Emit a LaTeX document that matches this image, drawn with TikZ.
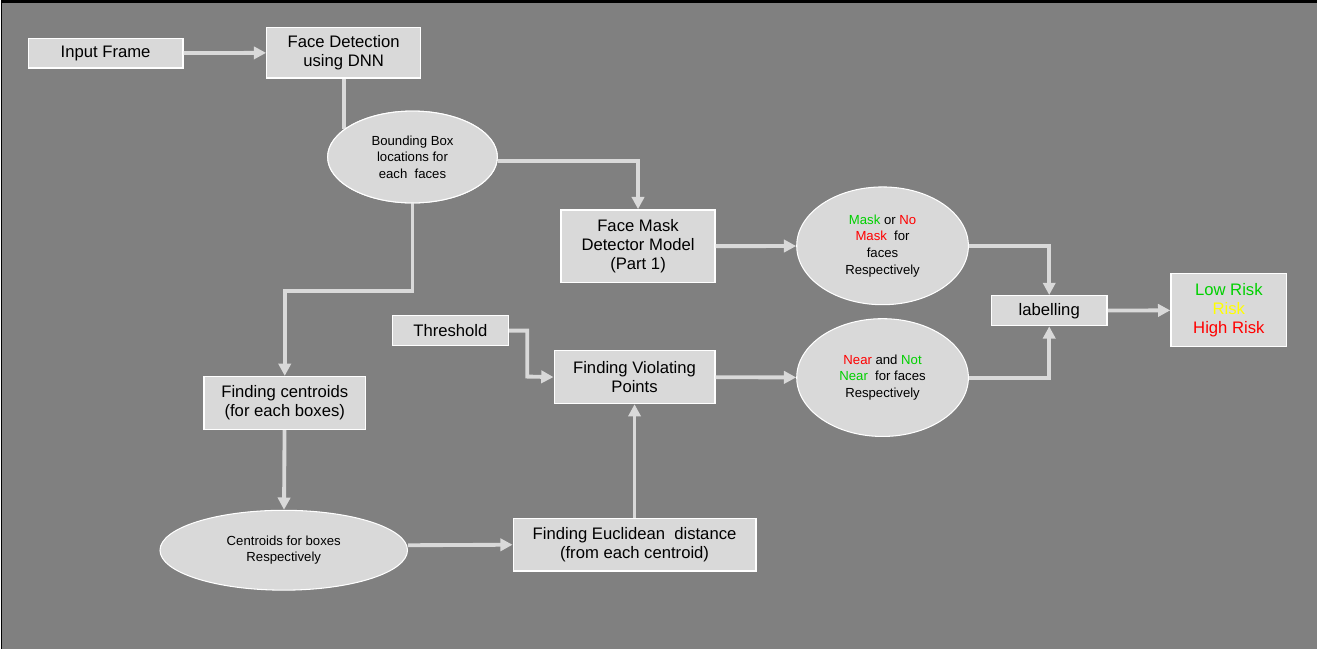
\documentclass[tikz,border=0pt]{standalone}
\usepackage{fontspec}
\setmainfont{Liberation Sans}
\usetikzlibrary{arrows.meta,shapes.geometric}
\newdimen\px \px=0.02cm
\definecolor{bg}{HTML}{808080}
\definecolor{boxfill}{HTML}{D9D9D9}
\definecolor{okgreen}{HTML}{00D000}
\definecolor{badred}{HTML}{FF0000}
\definecolor{midyellow}{HTML}{FFFF00}
\tikzset{
  blk/.style={draw=white, line width=0.8pt, fill=boxfill, align=center, font=\fontsize{9.5}{11}\selectfont, inner sep=1pt},
  oval/.style={ellipse, draw=white, line width=0.6pt, fill=boxfill, align=center, font=\fontsize{7.5}{9.5}\selectfont, inner sep=0pt},
  link/.style={draw=boxfill, line width=2.2pt},
  flow/.style={link, -{Triangle[length=7pt,width=7pt]}}
}
\begin{document}
\begin{tikzpicture}[x=0.02cm,y=-0.02cm]
\fill[bg] (0,0) rectangle (1318,649);
\draw[black, line width=1.5pt] (0,0) -- (1318,0);
\draw[black, line width=0.6pt] (0,0) -- (0,649);

% boxes
\node[blk, minimum width=155\px, minimum height=30\px] (input) at (104.5,52) {Input Frame};
\node[blk, minimum width=154\px, minimum height=51\px] (detect) at (343,51.5) {Face Detection\\using DNN};
\node[oval, minimum width=170\px, minimum height=92\px] (bbox) at (412,156) {Bounding Box\\locations for\\each\ \ faces};
\node[blk, minimum width=154\px, minimum height=73\px] (maskmodel) at (638,245.5) {Face Mask\\Detector Model\\(Part 1)};
\node[oval, minimum width=172\px, minimum height=118\px] (maskres) at (883,245) {\textcolor{okgreen}{Mask} or \textcolor{badred}{No}\\\textcolor{badred}{Mask}\ \ for\\faces\\Respectively};
\node[blk, minimum width=116\px, minimum height=30\px] (thresh) at (450,330) {Threshold};
\node[blk, minimum width=161\px, minimum height=53\px] (violate) at (634.5,376.5) {Finding Violating\\Points};
\node[oval, minimum width=172\px, minimum height=118\px] (nearres) at (883,377) {\textcolor{badred}{Near} and \textcolor{okgreen}{Not}\\\textcolor{okgreen}{Near}\ \ for faces\\Respectively};
\node[blk, minimum width=116\px, minimum height=30\px] (label) at (1050,310) {labelling};
\node[blk, minimum width=116\px, minimum height=73\px] (risk) at (1230,309.5) {\textcolor{okgreen}{Low Risk}\\\textcolor{midyellow}{Risk}\\\textcolor{badred}{High Risk}};
\node[blk, minimum width=162\px, minimum height=53\px] (centroid) at (284,402.5) {Finding centroids\\(for each boxes)};
\node[oval, minimum width=248\px, minimum height=80\px] (cres) at (283,550) {Centroids for boxes\\Respectively};
\node[blk, minimum width=243\px, minimum height=53\px] (eucl) at (634.5,544.5) {Finding Euclidean\ \ distance\\(from each centroid)};

% connectors
\draw[flow] (input) -- (detect);
\begin{scope}[on background layer/.style={}]
\end{scope}
\draw[flow] (bbox.east |- 0,160) -| (maskmodel.north);
\draw[flow] (bbox.south) |- (284,290) -- (centroid.north);
\draw[flow] (centroid) -- (cres);
\draw[flow] (cres.east |- 0,545) -- (eucl.west);
\draw[flow] (eucl) -- (violate);
\draw[flow] (thresh.east) -| (527,376) -- (violate.west);
\draw[flow] (maskmodel) -- (maskres);
\draw[flow] (violate) -- (nearres);
\draw[flow] (maskres.east) -| (label.north);
\draw[flow] (nearres.east) -| (label.south);
\draw[flow] (label) -- (risk);
\draw[link] (detect.south) -- (343,128);
% redraw ellipse over stub
\node[oval, minimum width=170\px, minimum height=92\px] at (bbox) {Bounding Box\\locations for\\each\ \ faces};
\end{tikzpicture}
\end{document}
